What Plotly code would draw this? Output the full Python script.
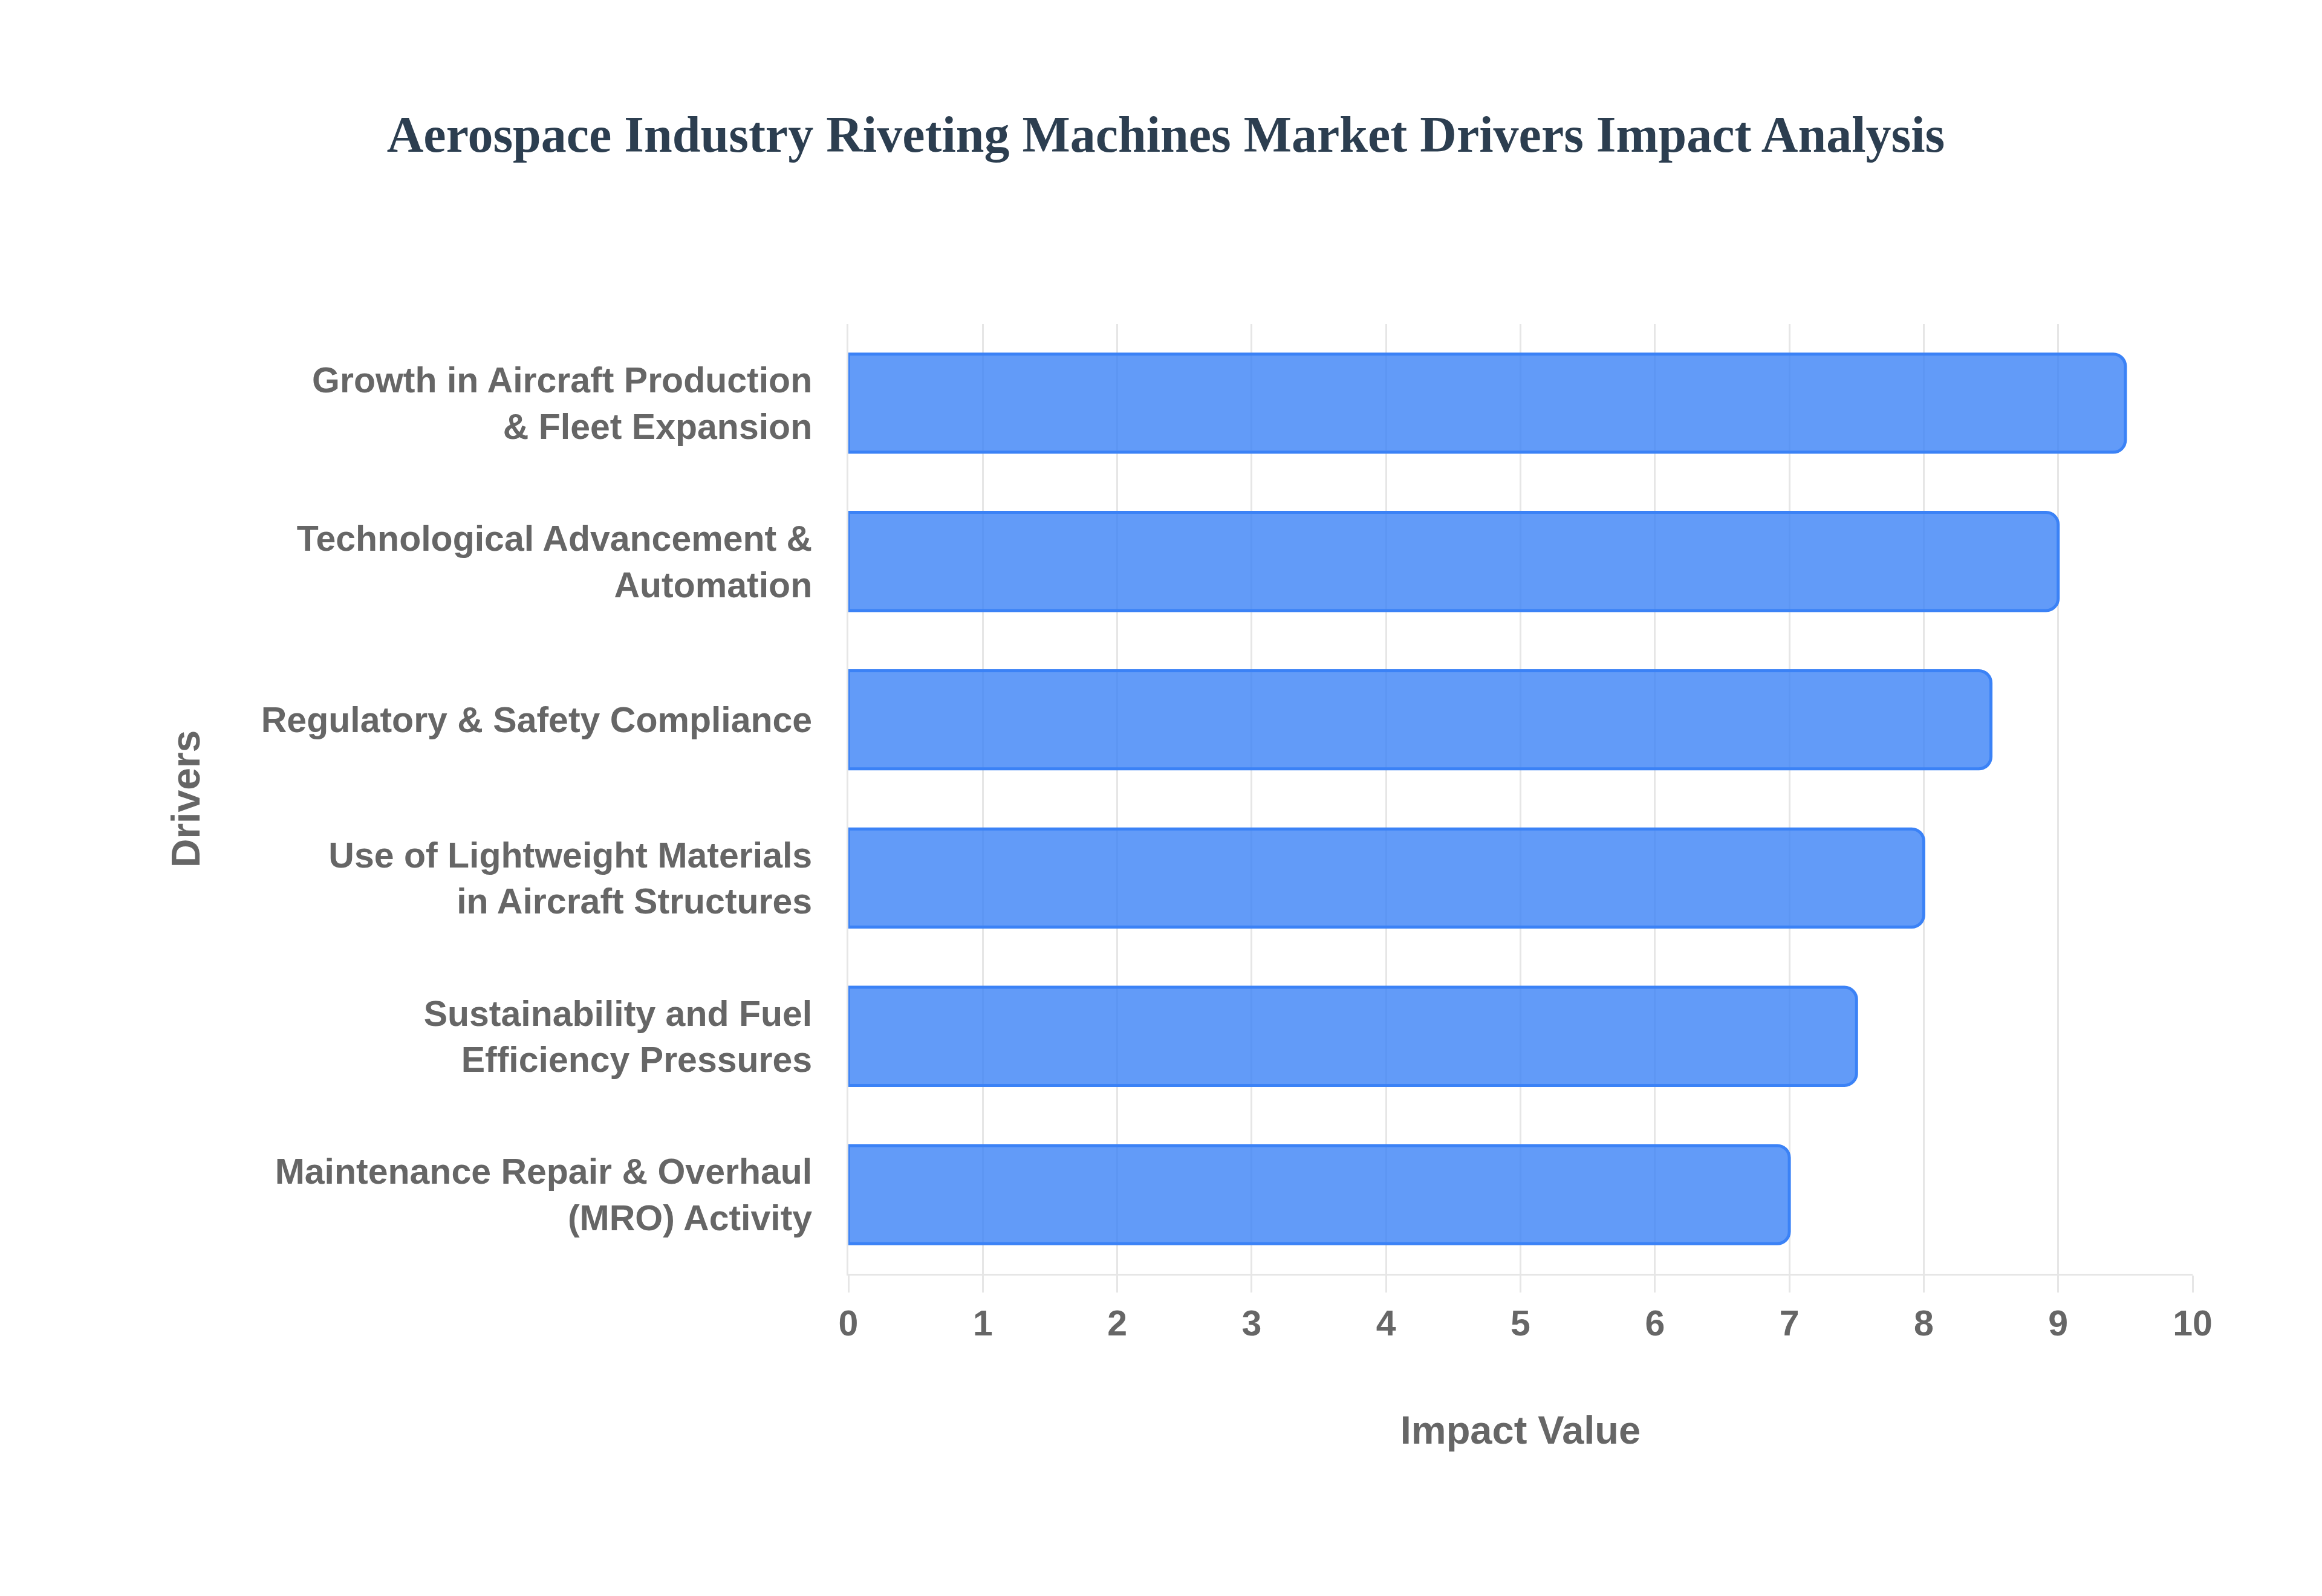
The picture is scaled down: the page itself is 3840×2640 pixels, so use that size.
import plotly.graph_objects as go

# market drivers, top to bottom as drawn
drivers = [
    "Growth in Aircraft Production<br>& Fleet Expansion",
    "Technological Advancement &<br>Automation",
    "Regulatory & Safety Compliance",
    "Use of Lightweight Materials<br>in Aircraft Structures",
    "Sustainability and Fuel<br>Efficiency Pressures",
    "Maintenance Repair & Overhaul<br>(MRO) Activity",
]
impact = [9.5, 9.0, 8.5, 8.0, 7.5, 7.0]
x_ticks = list(range(0, 11))

label_font = dict(family="Liberation Sans, Arial, sans-serif", size=59, color="#666666", weight="bold")

fig = go.Figure()
fig.add_trace(go.Bar(
    x=impact,
    y=drivers,
    orientation="h",
    marker=dict(color="rgba(59,130,246,0.8)", line=dict(color="#3B82F6", width=5), cornerradius=20),
    width=0.62,
))

fig.update_layout(
    width=3840,
    height=2640,
    paper_bgcolor="white",
    plot_bgcolor="white",
    showlegend=False,
    margin=dict(l=1395, r=222, t=528, b=541),
    title=dict(
        text="Aerospace Industry Riveting Machines Market Drivers Impact Analysis",
        font=dict(family="Liberation Serif, Times New Roman, serif", size=84, color="#2C3E50", weight="bold"),
        x=0.5, xanchor="center", xref="container",
        y=0.919, yanchor="middle", yref="container",
    ),
)
fig.update_xaxes(
    range=[0, 10],
    tickvals=x_ticks,
    tickfont=label_font,
    showgrid=True, gridcolor="#E6E6E6", gridwidth=3,
    showline=True, linecolor="#E6E6E6", linewidth=3,
    ticks="outside", ticklen=28, tickcolor="#E6E6E6", tickwidth=3,
    zeroline=False,
    automargin=False,
    title=dict(text="Impact Value", font=dict(family="Liberation Sans, Arial, sans-serif", size=65, color="#666666", weight="bold"), standoff=122),
)
fig.update_yaxes(
    categoryorder="array",
    categoryarray=drivers[::-1],
    tickfont=label_font,
    showgrid=False,
    showline=True, linecolor="#E6E6E6", linewidth=3,
    ticks="outside", ticklen=45, tickcolor="rgba(0,0,0,0)",
    automargin=False,
    title=dict(text="Drivers", font=dict(family="Liberation Sans, Arial, sans-serif", size=66, color="#666666", weight="bold"), standoff=80),
)

fig.write_html("out.html")
